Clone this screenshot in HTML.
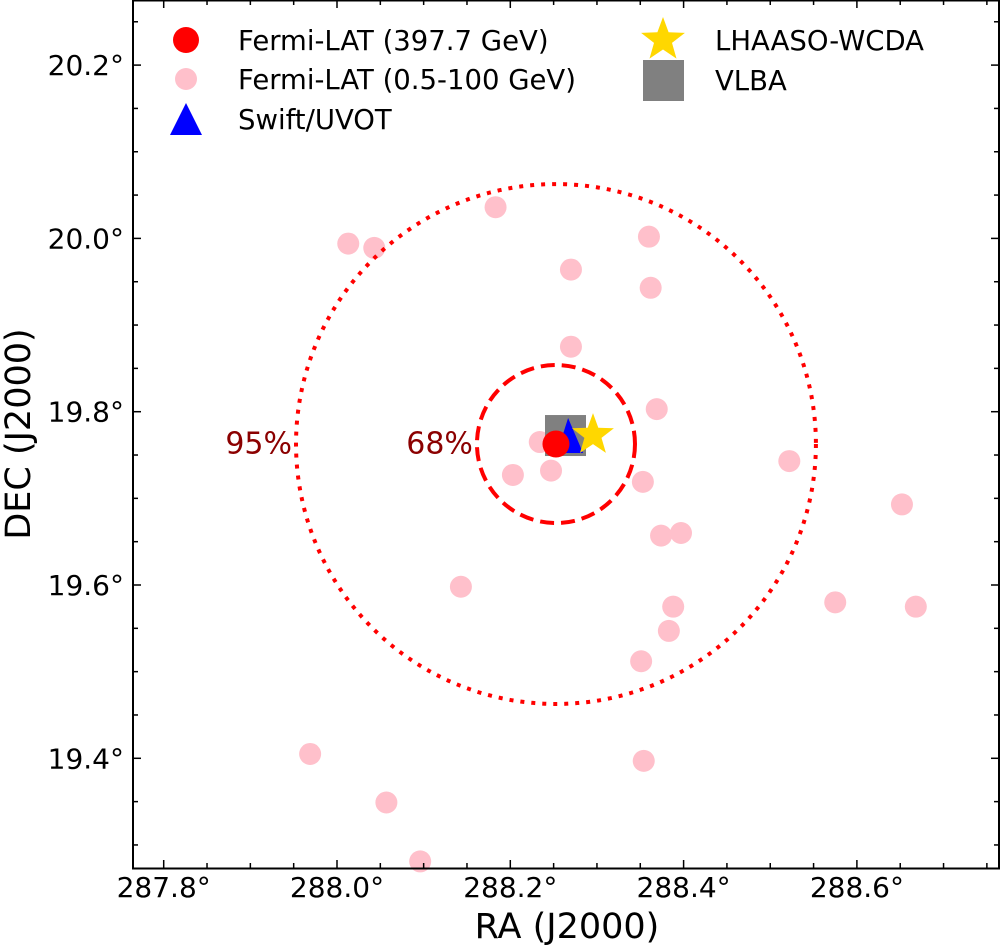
<!DOCTYPE html>
<html><head><meta charset="utf-8">
<style>
html,body{margin:0;padding:0;background:#fff;}
svg{display:block;font-family:"DejaVu Sans","Liberation Sans",sans-serif;}
</style></head>
<body>
<svg id="chart" width="1001" height="948" viewBox="0 0 1001 948" xmlns="http://www.w3.org/2000/svg">
<g id="marks"></g>
<g id="axes"></g>
<g id="legend"></g>
</svg>
<script>
const pinkRA = [288.013,288.043,288.183,288.270,288.360,288.362,288.270,288.369,288.234,288.203,288.247,288.353,288.374,288.397,288.522,288.652,288.668,288.575,288.143,288.388,288.383,288.351,288.354,287.969,288.057,288.096];
const pinkDEC = [19.994,19.989,20.036,19.964,20.002,19.943,19.875,19.803,19.765,19.727,19.732,19.719,19.657,19.660,19.743,19.693,19.575,19.580,19.598,19.575,19.547,19.512,19.397,19.405,19.349,19.281];
const fermiRA = [288.2527];
const fermiDEC = [19.7627];
const swiftRA = [288.269];
const swiftDEC = [19.772];
const lhaasoRA = [288.2954];
const lhaasoDEC = [19.773];
const vlbaRA = [288.2637];
const vlbaDEC = [19.7725];
const contourRadii = [0.0912, 0.300];
const contourLabels = ["68%", "95%"];
const xTicks = [287.8, 288.0, 288.2, 288.4, 288.6];
const xTickLabels = ["287.8°","288.0°","288.2°","288.4°","288.6°"];
const yTicks = [19.4, 19.6, 19.8, 20.0, 20.2];
const yTickLabels = ["19.4°","19.6°","19.8°","20.0°","20.2°"];

const L=133, R=1000, T=0, B=868, PX=866.5;
function sx(ra){ return 337 + (ra-288.0)*PX; }
function sy(dec){ return 411.7 - (dec-19.8)*PX; }
const NS="http://www.w3.org/2000/svg";
function mk(tag, attrs, parent){
  const e=document.createElementNS(NS,tag);
  for(const k in attrs) e.setAttribute(k, attrs[k]);
  parent.appendChild(e); return e;
}
const marks=document.getElementById('marks');
const axes=document.getElementById('axes');
const legend=document.getElementById('legend');

for(let i=0;i<pinkRA.length;i++){
  const c=mk('circle',{cx:sx(pinkRA[i]),cy:sy(pinkDEC[i]),r:11,fill:'#ffc0cb'},marks);
  
  
}
const cx0=sx(fermiRA[0]), cy0=sy(fermiDEC[0]);
const c68=mk('circle',{cx:cx0,cy:cy0,r:contourRadii[0]*PX,fill:'none',stroke:'#ff0000','stroke-width':4,'stroke-dasharray':'14 7'},marks);


const c95=mk('circle',{cx:cx0,cy:cy0,r:contourRadii[1]*PX,fill:'none',stroke:'#ff0000','stroke-width':4,'stroke-dasharray':'4 7'},marks);


for(let i=0;i<2;i++){
  const t=mk('text',{x:cx0-contourRadii[i]*PX-4,y:cy0+1,'text-anchor':'end','font-size':30,fill:'#8b0000','dominant-baseline':'middle'},marks);
  t.textContent=contourLabels[i];
  
  
}
{
  const x=sx(vlbaRA[0]), y=sy(vlbaDEC[0]);
  const s=mk('rect',{x:x-20.5,y:y-20.5,width:41,height:41,fill:'#808080'},marks);
  
  
}
{
  const x=sx(swiftRA[0]), y=sy(swiftDEC[0]);
  const p=mk('polygon',{points:`${x-13},${y+17} ${x+13},${y+17} ${x-2},${y-18}`,fill:'#0000ff'},marks);
  
  
}
function starPts(x,y,ro,ri){
  let s=[];
  for(let k=0;k<10;k++){
    const r=k%2?ri:ro, a=-Math.PI/2+k*Math.PI/5;
    s.push((x+r*Math.cos(a)).toFixed(1)+','+(y+r*Math.sin(a)).toFixed(1));
  }
  return s.join(' ');
}
{
  const x=sx(lhaasoRA[0]), y=sy(lhaasoDEC[0]);
  const p=mk('polygon',{points:starPts(x,y,22,9),fill:'#ffd700'},marks);
  
  
}
{
  const c=mk('circle',{cx:sx(fermiRA[0]),cy:sy(fermiDEC[0]),r:13.5,fill:'#ff0000'},marks);
  
  
}

const fr=mk('rect',{x:L,y:T+0.5,width:R-L-1,height:B-T,fill:'none',stroke:'#000','stroke-width':2},axes);


for(let v=287.75; v<=288.76; v+=0.05){
  const x=sx(v); if(x<L+1||x>R-1) continue;
  const major=Math.abs(Math.round(v*5)-v*5)<1e-6;
  const len=major?8:5;
  mk('line',{x1:x,x2:x,y1:B,y2:B-len,stroke:'#000','stroke-width':1.5},axes);
  mk('line',{x1:x,x2:x,y1:T,y2:T+len,stroke:'#000','stroke-width':1.5},axes);
}
for(let v=19.25; v<=20.3; v+=0.05){
  const y=sy(v); if(y<T+1||y>B-1) continue;
  const major=Math.abs(Math.round(v*5)-v*5)<1e-6;
  const len=major?8:5;
  mk('line',{x1:L,x2:L+len,y1:y,y2:y,stroke:'#000','stroke-width':1.5},axes);
  mk('line',{x1:R-1,x2:R-1-len,y1:y,y2:y,stroke:'#000','stroke-width':1.5},axes);
}
for(let i=0;i<xTicks.length;i++){
  const t=mk('text',{x:sx(xTicks[i]),y:897,'text-anchor':'middle','font-size':28,fill:'#000'},axes);
  t.textContent=xTickLabels[i];
  
  
}
for(let i=0;i<yTicks.length;i++){
  const t=mk('text',{x:124,y:sy(yTicks[i])+10,'text-anchor':'end','font-size':28,fill:'#000'},axes);
  t.textContent=yTickLabels[i];
  
  
}
{
  const t=mk('text',{x:567,y:938,'text-anchor':'middle','font-size':35,fill:'#000'},axes);
  t.textContent='RA (J2000)';
  
  
  const t2=mk('text',{x:0,y:0,'text-anchor':'middle','font-size':35,fill:'#000',transform:'translate(30,434) rotate(-90)'},axes);
  t2.textContent='DEC (J2000)';
  
  
}

function legText(x,y,s){
  const t=mk('text',{x:x,y:y+10,'font-size':27.5,fill:'#000'},legend);
  t.textContent=s;
  
  
}
{
  let e=mk('circle',{cx:186,cy:40,r:13,fill:'#ff0000'},legend);
  
  
  legText(238,40,'Fermi-LAT (397.7 GeV)');
  e=mk('circle',{cx:186,cy:79,r:11,fill:'#ffc0cb'},legend);
  
  
  legText(238,79,'Fermi-LAT (0.5-100 GeV)');
  e=mk('polygon',{points:'170,135 202,135 186,103',fill:'#0000ff'},legend);
  
  
  legText(238,119,'Swift/UVOT');
  e=mk('polygon',{points:starPts(663,40,23,9.5),fill:'#ffd700'},legend);
  
  
  legText(715,40,'LHAASO-WCDA');
  e=mk('rect',{x:643,y:60,width:41,height:41,fill:'#808080'},legend);
  
  
  legText(715,80,'VLBA');
}
</script>
</body></html>
